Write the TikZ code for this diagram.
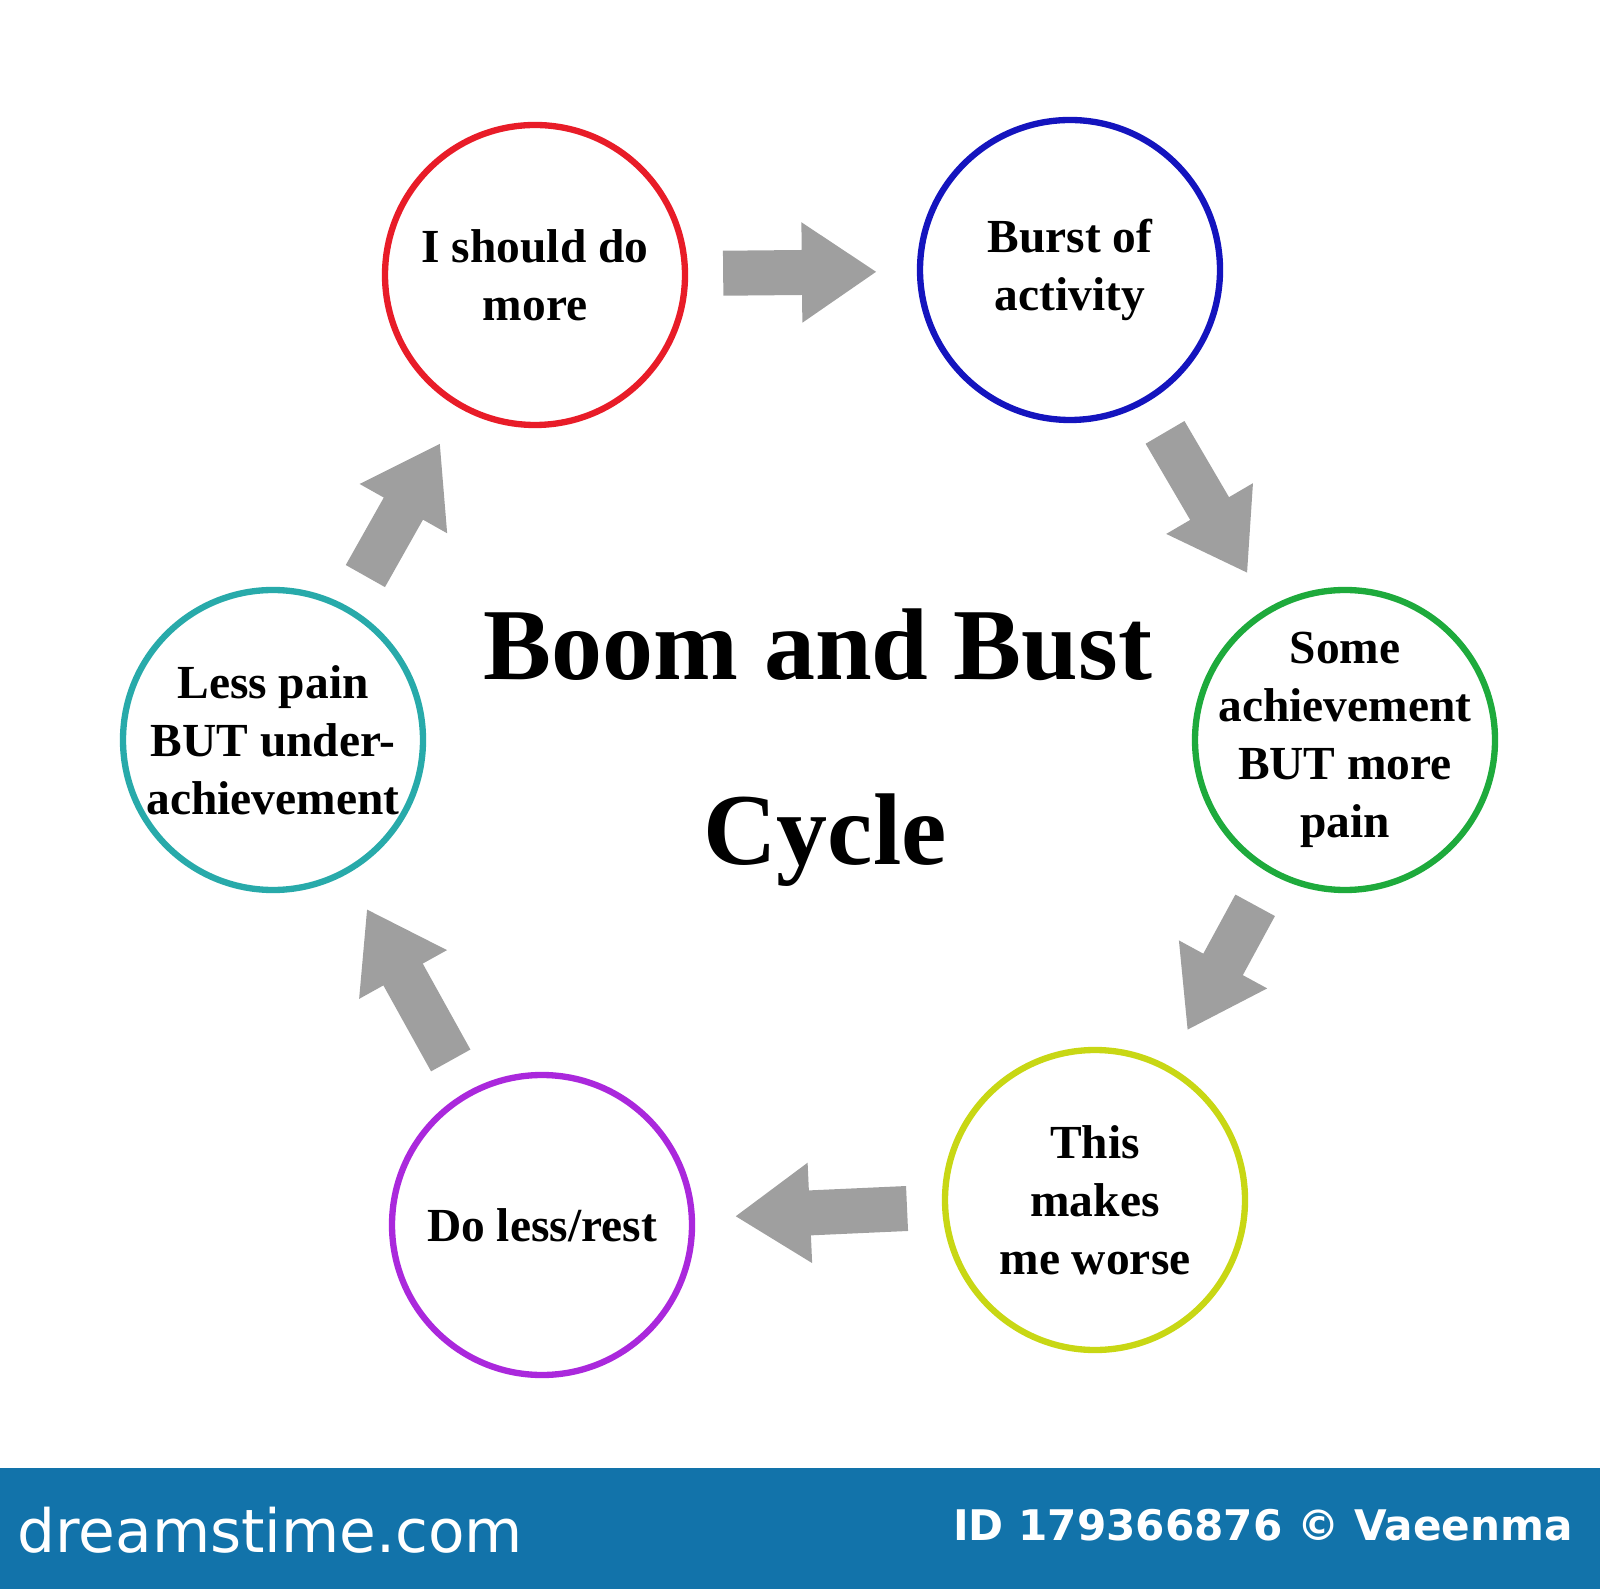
\documentclass[tikz,border=0pt]{standalone}
\usepackage{fontspec}
\setmainfont{Liberation Serif}
\setsansfont{DejaVu Sans}
\usetikzlibrary{arrows.meta}
\definecolor{cred}{RGB}{232,28,40}
\definecolor{cblue}{RGB}{20,20,190}
\definecolor{cgreen}{RGB}{30,170,60}
\definecolor{cyellow}{RGB}{200,215,20}
\definecolor{cpurple}{RGB}{170,40,220}
\definecolor{cteal}{RGB}{40,170,170}
\definecolor{barblue}{RGB}{18,115,170}
\begin{document}
\begin{tikzpicture}[x=1cm,y=1cm,
  stage/.style={shape=circle,draw,line width=1.8pt,minimum size=3cm,inner sep=-0.35cm,
    align=center,font=\bfseries\fontsize{13.5}{16.5}\selectfont},
  flow/.style={draw=gray!75,line width=0.45cm,shorten <=0.35cm,shorten >=0.4cm,
    -{Triangle[length=0.75cm,width=0.95cm]}}]
    \useasboundingbox (0,0) rectangle (16,-15.89);
    % the stages
    \node[stage,cred] (more) at (5.35,-2.75) {\color{black}I should do\\\color{black}more};
    \node[stage,cblue] (burst) at (10.70,-2.70) {\color{black}Burst of\\\color{black}activity};
    \node[stage,cgreen] (some) at (13.45,-7.40) {\color{black}Some\\\color{black}achievement\\\color{black}BUT more\\\color{black}pain};
    \node[stage,cyellow] (worse) at (10.95,-12.00) {\color{black}This\\\color{black}makes\\\color{black}me worse};
    \node[stage,cpurple] (rest) at (5.42,-12.25) {\color{black}Do less/rest};
    \node[stage,cteal] (less) at (2.73,-7.40) {\color{black}Less pain\\\color{black}BUT under-\\\color{black}achievement};
    % the title
    \node (title) at (8.18,-6.45) {\bfseries\fontsize{29}{35}\selectfont Boom and Bust};
    \node (cycle) at (8.25,-8.40) {\bfseries\fontsize{29}{35}\selectfont Cycle};
    % the flow
    \draw[flow] (more) -- (burst);
    \draw[flow] (burst) -- (some);
    \draw[flow] (some) -- (worse);
    \draw[flow] (worse) -- (rest);
    \draw[flow] (rest) -- (less);
    \draw[flow] (less) -- (more);
    % bottom bar
    \fill[barblue] (0,-14.68) rectangle (16,-15.89);
    \node[white,anchor=west,font=\sffamily\fontsize{17}{20}\selectfont] (site) at (0.05,-15.30) {dreamstime.com};
    \node[white,anchor=east,font=\sffamily\bfseries\fontsize{12}{14}\selectfont] (id) at (15.85,-15.25) {ID 179366876 © Vaeenma};
\end{tikzpicture}
\end{document}
